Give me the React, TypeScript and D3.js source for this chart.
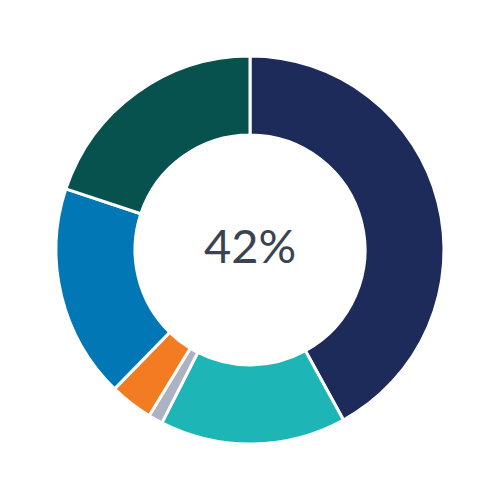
import React, { useRef, useEffect } from 'react';
import * as d3 from 'd3';

// slices clockwise from 12 o'clock
const categories = ['A', 'B', 'C', 'D', 'E', 'F'];
const values = [42, 15.5, 1.2, 3.6, 17.8, 19.9];
const colors = ['#1c2b5a', '#1db5b6', '#abb3c3', '#f37b21', '#0177b5', '#07514f'];
const centerLabel = '42%';

const width = 500;
const height = 500;

const App: React.FC = () => {
  const svgRef = useRef<SVGSVGElement>(null);

  useEffect(() => {
    if (!svgRef.current) return;
    const svg = d3.select(svgRef.current);
    svg.selectAll('*').remove();

    const g = svg.append('g').attr('transform', `translate(${width / 2}, ${height / 2})`);

    const pie = d3
      .pie<number>()
      .sort(null)
      .value((d) => d);

    const arc = d3.arc<d3.PieArcDatum<number>>().innerRadius(115).outerRadius(194);

    g.selectAll('path')
      .data(pie(values))
      .enter()
      .append('path')
      .attr('d', arc)
      .attr('fill', (_, i) => colors[i])
      .attr('stroke', '#fff')
      .attr('stroke-width', 3)
      .attr('data-cat', (_, i) => categories[i]);

    // center label, baseline a bit below the middle
    g.append('text')
      .attr('x', 0)
      .attr('y', 13)
      .attr('text-anchor', 'middle')
      .attr('font-family', 'Lato, sans-serif')
      .attr('font-size', '47px')
      .attr('fill', '#3c4350')
      .text(centerLabel);
  }, []);

  return (
    <svg
      ref={svgRef}
      width={width}
      height={height}
      style={{ position: 'absolute', left: 0, top: 0, background: '#fff' }}
    />
  );
};

export default App;
